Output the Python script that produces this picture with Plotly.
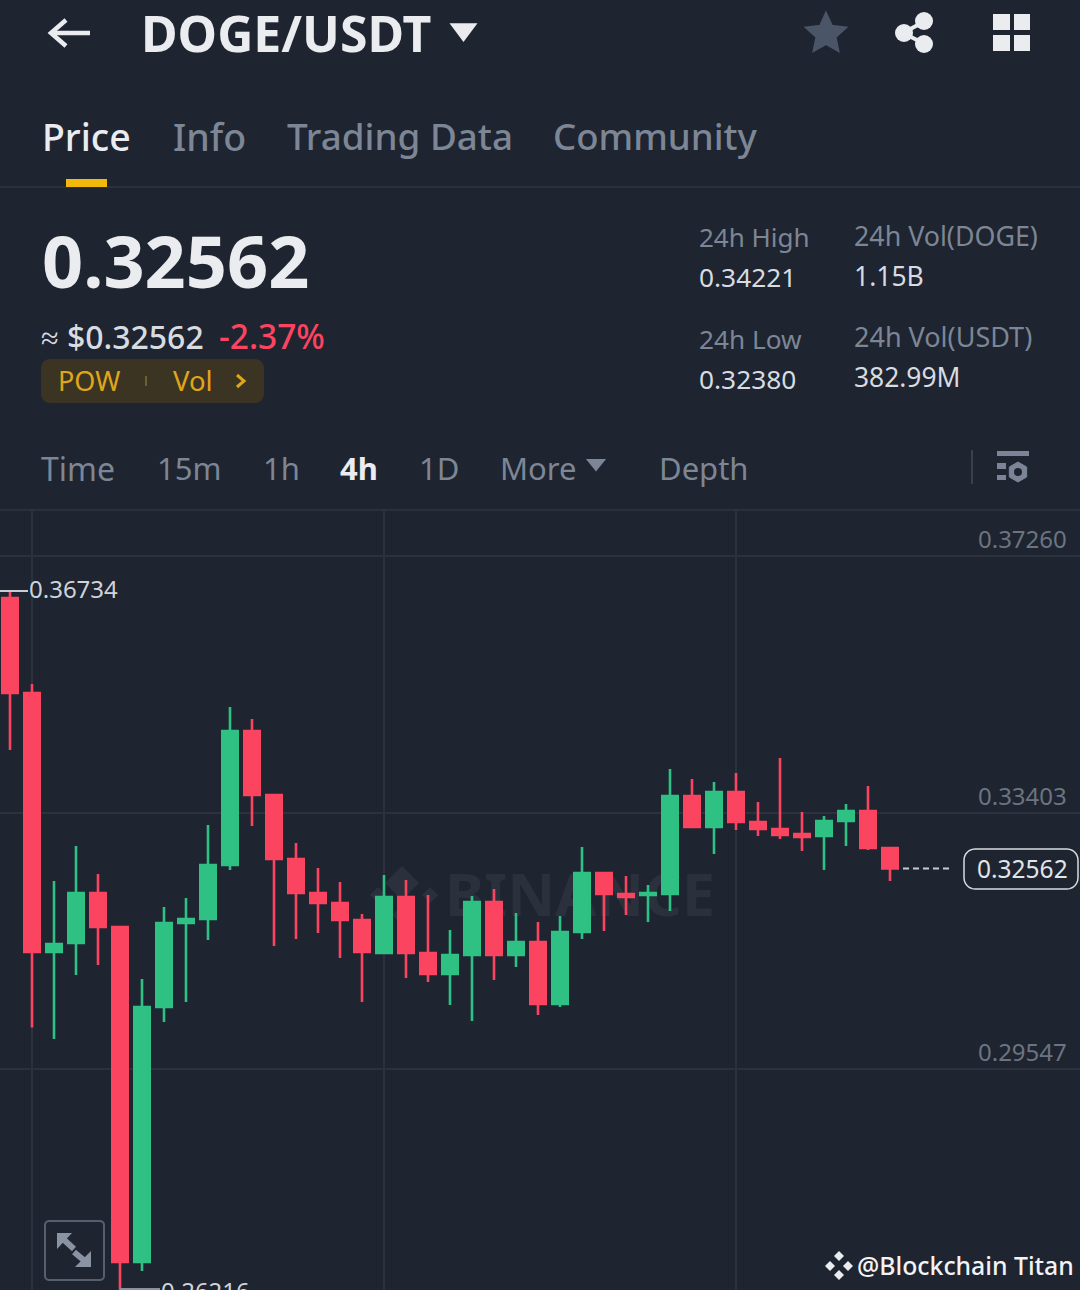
import math
import plotly.graph_objects as go

W, H = 1080, 1290
BG = "#1e2430"
GRID = "#2c323d"
RED = "#fb4460"
GREEN = "#2fc084"
WHITE = "#eaecef"
GRAY = "#7d8695"
GOLD = "#e0a61a"
FONT = "Noto Sans"

candle_index = list(range(41))
opens = [.36629,.35200,.31306,.31441,.32193,.31682,.26645,.30479,.31742,.31802,.32614,.34629,.33667,.32704,.32193,.32043,
         .31787,.31291,.32133,.31291,.30975,.31261,.32058,.31261,.31457,.30524,.31607,.32494,.32178,.32163,.32178,
         .33652,.33186,.33712,.33261,.33155,.33080,.33050,.33276,.33426,.32870]
highs = [.36734,.35336,.32374,.32900,.32479,.31697,.30900,.31983,.32118,.33216,.34990,.34809,.33667,.32945,.32569,.32359,
         .31878,.32464,.32389,.32163,.31637,.32148,.32253,.31893,.31757,.31847,.32885,.32494,.32449,.32314,.34058,
         .33907,.33862,.33997,.33561,.34223,.33411,.33351,.33531,.33802,.32870]
lows  = [.34343,.30171,.29998,.30960,.31111,.26216,.26510,.30254,.30554,.31487,.32539,.33201,.31396,.31502,.31592,.31216,
         .30554,.31276,.30915,.30855,.30509,.30269,.30885,.31081,.30359,.30479,.31502,.31622,.31862,.31757,.31923,
         .33186,.32780,.33140,.33050,.33005,.32825,.32539,.32900,.32840,.32374]
closes= [.35200,.31306,.31426,.32193,.31682,.26645,.30479,.31742,.31802,.32614,.34629,.33667,.32704,.32193,.32043,.31787,
         .31306,.32133,.31291,.30975,.31261,.32058,.31261,.31457,.30524,.31607,.32494,.32178,.32133,.32193,.33652,
         .33186,.33712,.33261,.33155,.33065,.33035,.33276,.33426,.32870,.32562]

price_ticks = [0.37260, 0.33403, 0.29547]
price_labels = ["0.37260", "0.33403", "0.29547"]
vertical_grid = [1, 17, 33]

CHART_TOP = 511
PX = (0.37260 - 0.29547) / (1069 - 556)
y_top = 0.37260 + (556 - CHART_TOP) * PX
y_bot = 0.37260 - (H - 556) * PX

def fx(x): return x / W
def fy(y): return 1 - y / H

shapes = []
annots = []

def T(x, y, text, size, color=WHITE, weight=400, anchor="left", family=FONT):
    annots.append(dict(xref="paper", yref="paper", x=fx(x), y=fy(y), text=text, showarrow=False,
                       xanchor=anchor, yanchor="middle", borderpad=0, borderwidth=0,
                       font=dict(family=family, size=size, color=color, weight=weight)))

def line(x0, y0, x1, y1, color, width=2, dash=None, layer="above"):
    shapes.append(dict(type="line", xref="paper", yref="paper", x0=fx(x0), y0=fy(y0), x1=fx(x1), y1=fy(y1),
                       line=dict(color=color, width=width, dash=dash or "solid"), layer=layer))

def rect(x0, y0, x1, y1, fill, lc=None, lw=0):
    shapes.append(dict(type="rect", xref="paper", yref="paper", x0=fx(x0), y0=fy(y0), x1=fx(x1), y1=fy(y1),
                       fillcolor=fill, line=dict(color=lc or fill, width=lw), layer="above"))

def poly(points, fill, lc=None, lw=0, closed=True, layer="above"):
    p = "M " + " L ".join(f"{fx(a):.5f},{fy(b):.5f}" for a, b in points) + (" Z" if closed else "")
    shapes.append(dict(type="path", xref="paper", yref="paper", path=p, fillcolor=fill if closed else "rgba(0,0,0,0)",
                       line=dict(color=lc or fill, width=lw), layer=layer))

def circle(cx, cy, r, fill):
    shapes.append(dict(type="circle", xref="paper", yref="paper", x0=fx(cx-r), y0=fy(cy-r), x1=fx(cx+r), y1=fy(cy+r),
                       fillcolor=fill, line=dict(color=fill, width=0), layer="above"))

def rrect(x0, y0, x1, y1, r, fill, lc, lw):
    pts = []
    for cx, cy, a0 in ((x1-r, y0+r, -90), (x1-r, y1-r, 0), (x0+r, y1-r, 90), (x0+r, y0+r, 180)):
        for k in range(7):
            a = math.radians(a0 + 15 * k)
            pts.append((cx + r*math.cos(a), cy + r*math.sin(a)))
    poly(pts, fill, lc, lw)

# header
poly([(66,20),(51,33),(66,46)], "rgba(0,0,0,0)", WHITE, 4.5, closed=False)
line(52, 33, 90, 33, WHITE, 4.5)
T(141, 33, "DOGE/USDT", 50, WHITE, 700)
poly([(453,25),(474,25),(463.5,39)], WHITE, WHITE, 3.5)
star = []
for k in range(10):
    r = 20 if k % 2 == 0 else 9.5
    a = math.radians(-90 + 36 * k)
    star.append((826 + r*math.cos(a), 34 + r*math.sin(a)))
poly(star, "#4a5567", "#4a5567", 3)
line(927, 20, 903, 33, WHITE, 4); line(903, 33, 927, 45, WHITE, 4)
circle(924, 21, 9, WHITE); circle(904, 33, 9, WHITE); circle(924, 44, 9, WHITE)
for a, b, c, d in ((993,14,1010,30),(1014,14,1030,30),(993,35,1010,51),(1014,35,1030,51)):
    rect(a, b, c, d, WHITE)

# tabs
T(42, 136.5, "Price", 37.5, WHITE, 500)
T(173, 136.5, "Info", 37.5, GRAY, 500)
T(287, 136.5, "Trading Data", 36.8, GRAY, 500)
T(553, 136.5, "Community", 36.6, GRAY, 500)
line(0, 187, W, 187, "#2b313c", 2)
rect(66, 179, 107, 187, "#f0b90b")

# price block
T(42, 260.5, "0.32562", 72, WHITE, 700)
T(41, 336, "≈ $0.32562", 32, "#d8dbe0", 500)
T(219, 336, "-2.37%", 33.5, RED, 500)
rrect(41, 359, 264, 403, 9, "#3b3423", "#3b3423", 0)
T(58, 380, "POW", 27, GOLD, 400)
T(173, 380, "Vol", 27.5, GOLD, 400)
line(146, 376, 146, 386, "#6f5f2c", 2)
poly([(237,375),(244,381),(237,387)], "rgba(0,0,0,0)", GOLD, 3, closed=False)

# stats
T(698.5, 237, "24h High", 26, GRAY)
T(698.5, 277, "0.34221", 26.3, "#d8dbe0")
T(853.5, 235, "24h Vol(DOGE)", 26.8, GRAY)
T(853.5, 276, "1.15B", 26.5, "#d8dbe0")
T(698.5, 339, "24h Low", 26.2, GRAY)
T(698.5, 379, "0.32380", 26.3, "#d8dbe0")
T(853.5, 337, "24h Vol(USDT)", 27, GRAY)
T(853.5, 377, "382.99M", 26.4, "#d8dbe0")

# toolbar
T(41, 468, "Time", 32, GRAY)
T(157, 468, "15m", 31, GRAY)
T(263, 468, "1h", 31, GRAY)
T(340, 468, "4h", 31, WHITE, 700)
T(419, 468, "1D", 31, GRAY)
T(500, 468, "More", 31, GRAY)
poly([(588,460),(604,460),(596,470)], GRAY, GRAY, 2)
T(659, 468, "Depth", 31, GRAY)
line(972, 450, 972, 484, "#3a414d", 2)
ICON = "#7c8597"
rect(997, 451, 1029, 456, ICON)
rect(997, 463, 1006, 469, ICON)
rect(997, 475, 1006, 480, ICON)
hexa = [(1018 + 10*math.cos(math.radians(30+60*k)), 472 + 10*math.sin(math.radians(30+60*k))) for k in range(6)]
poly(hexa, ICON, ICON, 1)
circle(1018, 472, 4, BG)
line(0, 510, W, 510, "#2b313c", 2)

# watermark under the candles
shapes.append(dict(type="rect", xref="paper", yref="paper", x0=fx(445), y0=fy(927), x1=fx(715), y1=fy(867),
                   line=dict(width=0, color="rgba(0,0,0,0)"), fillcolor="rgba(0,0,0,0)", layer="below",
                   label=dict(text="BINANCE", font=dict(family=FONT, size=59, color="#2b313c", weight=700),
                              textposition="middle center")))
for cx, cy, r in ((402, 883, 17), (378, 895, 8), (430, 895, 8), (402, 895, 6), (402, 915, 10)):
    poly([(cx, cy-r), (cx+r, cy), (cx, cy+r), (cx-r, cy)], "#2b313c", "#2b313c", 0, layer="below")

# price markers
line(0, 591, 28, 591, "#c9ccd2", 2)
T(29, 588.5, "0.36734", 24, "#d0d3d9")
line(120, 1289, 160, 1289, "#8b919c", 2)
T(161, 1290, "0.26216", 24, "#d0d3d9")
line(903, 868.5, 950, 868.5, "#c9ccd2", 2, dash="6px,4px")
rrect(964, 849, 1078, 889, 11, BG, "#d8dbe0", 1.5)
T(977, 868.5, "0.32562", 24.5, "#e2e4e8")

# expand button
rrect(45, 1221, 104, 1280, 4, "rgba(0,0,0,0)", "#565f6d", 2)
EX = "#8a93a3"
poly([(57,1233),(72,1233),(57,1249)], EX, EX, 0)
line(62, 1238, 74, 1249, EX, 6)
poly([(91,1267),(75,1267),(91,1251)], EX, EX, 0)
line(86, 1262, 74, 1252, EX, 6)

# credit
for cx, cy in ((839,1256),(830,1266),(848,1266),(839,1275)):
    poly([(cx,cy-5),(cx+5,cy),(cx,cy+5),(cx-5,cy)], WHITE, WHITE, 0)
T(857, 1265, "@Blockchain Titan", 24.8, "#f2f3f5", 500)

fig = go.Figure(go.Candlestick(
    x=candle_index, open=opens, high=highs, low=lows, close=closes,
    whiskerwidth=0, hoverinfo="skip",
    increasing=dict(line=dict(color=GREEN, width=2.6), fillcolor=GREEN),
    decreasing=dict(line=dict(color=RED, width=2.6), fillcolor=RED),
))

fig.update_layout(
    width=W, height=H, margin=dict(l=0, r=0, t=0, b=0), showlegend=False,
    paper_bgcolor=BG, plot_bgcolor=BG, boxgap=0.0,
    font=dict(family=FONT),
    shapes=shapes, annotations=annots,
    xaxis=dict(range=[-10/22, (W-10)/22], rangeslider=dict(visible=False), tickvals=vertical_grid,
               showticklabels=False, ticks="", gridcolor=GRID, gridwidth=1.5, zeroline=False, showline=False,
               fixedrange=True),
    yaxis=dict(domain=[0, 1 - CHART_TOP/H], range=[y_bot, y_top], side="right", tickvals=price_ticks,
               ticktext=price_labels, ticklabelposition="inside", ticks="inside", ticklen=15,
               tickcolor="rgba(0,0,0,0)", ticklabelshift=-16, tickfont=dict(family=FONT, size=24, color="#6c7482"),
               gridcolor=GRID, gridwidth=1.5, zeroline=False, showline=False, fixedrange=True),
)

fig.write_html("out.html", config=dict(displayModeBar=False),
               post_script="document.body.style.margin='0';document.body.style.overflow='hidden';")
